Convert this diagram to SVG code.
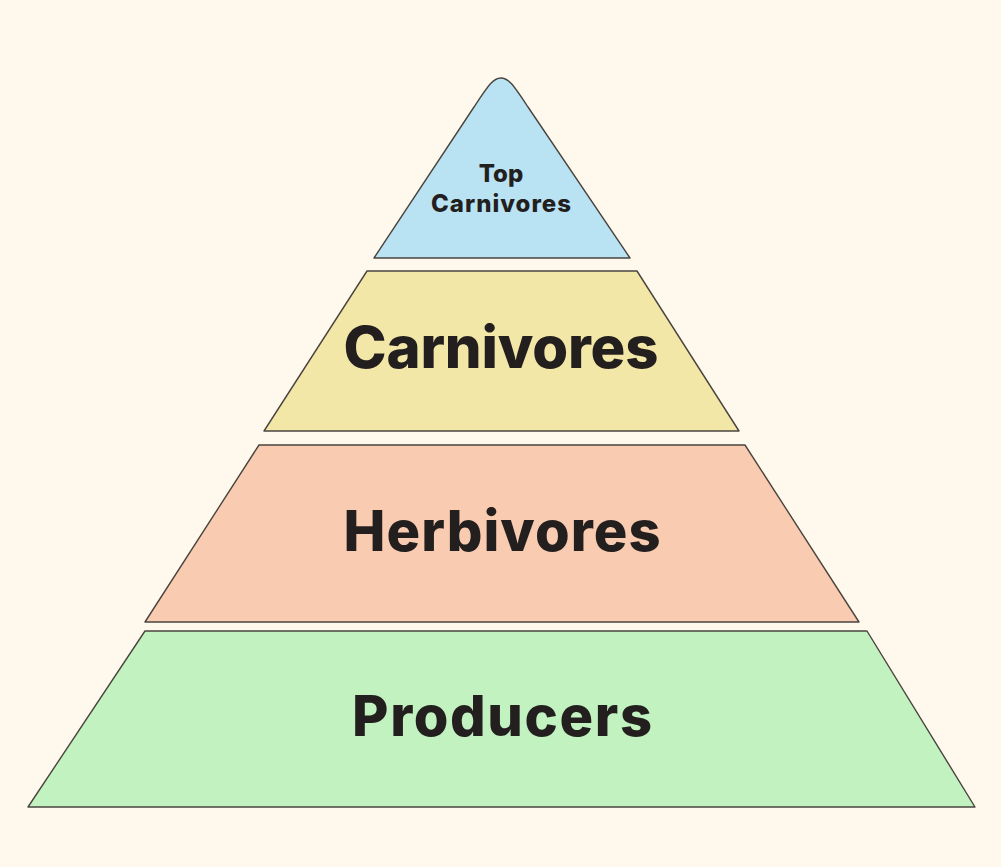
<svg xmlns="http://www.w3.org/2000/svg" width="1001" height="867" viewBox="0 0 1001 867">
<style>
.lv{stroke:#4a443f;stroke-width:1.4;stroke-linejoin:round}
.t{font-family:"Inter","Liberation Sans","DejaVu Sans",sans-serif;font-weight:800;fill:#231f1f;text-anchor:middle}
</style>
<rect width="1001" height="867" fill="#fff8ec"/>
<g id="top-carnivores">
<path class="lv" fill="#b9e3f3" d="M374,258 L474,107 C488,86 493,78 501,78 C509,78 514,86 528,107 L630,258 Z"/>
<text class="t" x="501" y="182" font-size="24">Top</text>
<text class="t" x="501" y="212" font-size="24" textLength="140">Carnivores</text>
</g>
<g id="carnivores">
<path class="lv" fill="#f3e7a8" d="M367,271 L637,271 L739,431 L264,431 Z"/>
<text class="t" x="501" y="368" font-size="58" textLength="315">Carnivores</text>
</g>
<g id="herbivores">
<path class="lv" fill="#f9cbb0" d="M259,445 L745,445 L859,622 L145,622 Z"/>
<text class="t" x="502" y="551" font-size="56" textLength="317">Herbivores</text>
</g>
<g id="producers">
<path class="lv" fill="#c1f2c0" d="M145,631 L867,631 L975,807 L28,807 Z"/>
<text class="t" x="502" y="736" font-size="56" textLength="300">Producers</text>
</g>
<g id="connectors"></g>
</svg>
